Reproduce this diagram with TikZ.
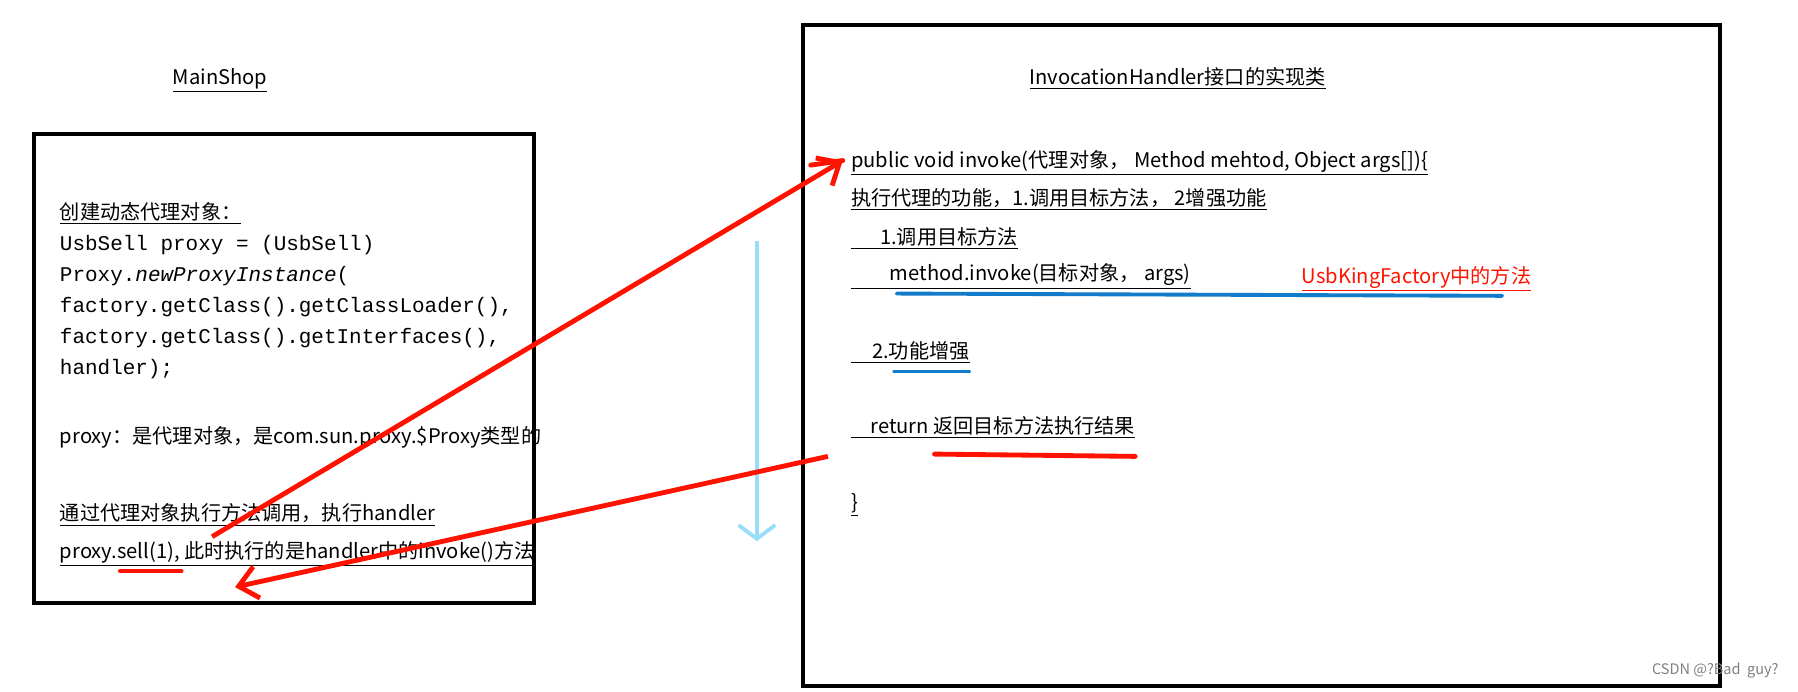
\documentclass[tikz,border=0pt]{standalone}
\usepackage{fontspec}
\setmainfont{Carlito}
\newfontfamily\cjk{Noto Sans CJK SC}
\newfontfamily\codefont{Liberation Mono}
\usetikzlibrary{arrows.meta, positioning, calc}
\tikzset{
    txt/.style={anchor=west, inner sep=0pt, font=\fontsize{12.5}{15}\selectfont\cjk},
    code/.style={anchor=west, inner sep=0pt, font=\fontsize{13}{15}\selectfont\codefont},
    cadre/.style={line width=2.6pt, black},
    fleche rouge/.style={-{Straight Barb[length=4mm, width=7mm]}, line width=3pt, red!85!orange},
    trait rouge/.style={line width=3pt, red!85!orange, line cap=round},
    trait bleu/.style={line width=2.4pt, cyan!60!blue, line cap=round},
    fleche bleue/.style={-{Straight Barb[length=3mm, width=8mm]}, line width=2.4pt, cyan!40!white},
}
\newcommand{\soul}[1]{\underline{#1}}
\begin{document}
\begin{tikzpicture}[x=0.025cm, y=-0.025cm]
\useasboundingbox (0,0) rectangle (1568,603);
% cadre MainShop
\node[txt, anchor=center] (titreA) at (192,70) {\soul{MainShop}};
\draw[cadre] (30,117) rectangle (466,526);
\node[txt] (a1) at (52,186) {\soul{创建动态代理对象：}};
\node[code] (a2) at (52,214) {UsbSell proxy = (UsbSell)};
\node[code] (a3) at (52,241) {Proxy.\textit{newProxyInstance}(};
\node[code] (a4) at (52,268) {factory.getClass().getClassLoader(),};
\node[code] (a5) at (52,295) {factory.getClass().getInterfaces(),};
\node[code] (a6) at (52,322) {handler);};
\node[txt] (a7) at (52,381) {proxy：是代理对象，是com.sun.proxy.\$Proxy类型的};
\node[txt] (a8) at (52,449) {\soul{通过代理对象执行方法调用，执行handler}};
\node[txt] (a9) at (52,483) {\soul{proxy.sell(1), 此时执行的是handler中的invoke()方法}};
\draw[trait rouge] (105,498) -- (158,498);

% cadre InvocationHandler
\draw[cadre] (700,22) rectangle (1500,598);
\node[txt, anchor=center] (titreB) at (1027,68) {\soul{InvocationHandler接口的实现类}};
\node[txt] (b1) at (742,142) {\soul{public void invoke(代理对象， Method mehtod, Object args[])\{}};
\node[txt] (b2) at (742,174) {\soul{执行代理的功能，1.调用目标方法， 2增强功能}};
\node[txt] (b3) at (742,208) {\soul{\hspace{18pt}1.调用目标方法}};
\node[txt] (b4) at (742,241) {\soul{\hspace{24pt}method.invoke(目标对象， args)}};
\node[txt, text=red!85!orange] (b5) at (1135,243) {\soul{UsbKingFactory中的方法}};
\node[txt] (b6) at (742,307) {\soul{\hspace{13pt}2.功能增强}};
\node[txt] (b7) at (742,373) {\soul{\hspace{12pt}return 返回目标方法执行结果}};
\node[txt] (b8) at (742,440) {\soul{\}}};
\draw[trait bleu] (782,256) -- (1310,258);
\draw[trait bleu] (780,324) -- (845,324);
\draw[trait rouge] (815,396) -- (990,398);

% fleches
\coordinate (sellA) at (185,468);
\coordinate (invB) at (735,140);
\coordinate (retB) at (722,398);
\coordinate (sellB) at (205,512);
\coordinate (haut) at (660,210);
\coordinate (bas) at (660,472);
\draw[fleche bleue] (haut) -- (bas);
\draw[fleche rouge] (sellA) -- (invB);
\draw[trait rouge] (707,144) -- (invB);
\draw[fleche rouge] (retB) -- (sellB);
\node[anchor=east, font=\fontsize{9}{11}\selectfont\cjk, text=gray] (wm) at (1556,585) {CSDN @?Bad\ \ guy?};
\end{tikzpicture}
\end{document}
